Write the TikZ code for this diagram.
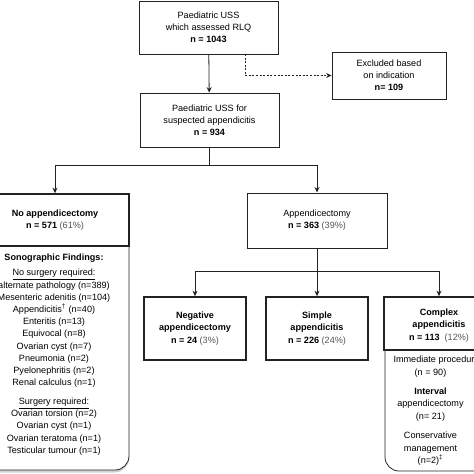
\documentclass[tikz,border=0pt]{standalone}
\usepackage{fontspec}
\setmainfont{Liberation Sans}
\usetikzlibrary{arrows.meta,shadows}
\definecolor{pct}{HTML}{555555}
\definecolor{ln}{HTML}{222222}
\begin{document}
\begin{tikzpicture}[x=1pt,y=-1pt,
  font=\fontsize{9.1}{12.2}\selectfont,
  box/.style={draw=ln, line width=0.8pt, align=center, inner sep=0pt, fill=white},
  thickbox/.style={box, line width=1.7pt},
  arr/.style={draw=ln, line width=0.8pt, -{Stealth[length=5.5pt,width=5pt]}},
  conn/.style={draw=ln, line width=0.8pt},
  dotarr/.style={draw=ln, line width=0.9pt, dash pattern=on 2pt off 1.6pt, -{Stealth[length=5.5pt,width=5pt]}},
  lowbox/.style={draw=ln, line width=0.8pt, fill=white},
  plain/.style={align=center, inner sep=0pt}
]
\useasboundingbox (0,0) rectangle (474,474);

% lower (findings) boxes
\path[lowbox, drop shadow={shadow xshift=0pt, shadow yshift=-2.5pt, fill=black!35}]
  (-30,246) -- (129,246) -- (129,456) .. controls (129,463.7) and (122.7,470) .. (115,470) -- (-30,470) -- cycle;
\path[lowbox]
  (500,350) -- (385,350) -- (385,457) .. controls (385,464.7) and (391.3,471) .. (399,471) -- (500,471) -- cycle;

% nodes
\node[box, minimum width=139pt, minimum height=53pt] (n1) at (208.5,27.5)
  {Paediatric USS\\which assessed RLQ\\\textbf{n = 1043}};
\node[box, minimum width=114pt, minimum height=47pt] (excl) at (389,75.5)
  {Excluded based\\on indication\\\textbf{n= 109}};
\node[box, minimum width=139pt, minimum height=54pt] (n2) at (209.5,120)
  {Paediatric USS for\\suspected appendicitis\\\textbf{n = 934}};
\node[thickbox, minimum width=148pt, minimum height=52pt] (noapp) at (55,220)
  {\textbf{No appendicectomy}\\\textbf{n = 571} {\color{pct}(61\%)}};
\node[box, minimum width=140pt, minimum height=55pt, line width=1pt] (app) at (317,220.5)
  {Appendicectomy\\\textbf{n = 363} {\color{pct}(39\%)}};
\node[thickbox, minimum width=102pt, minimum height=63pt] (neg) at (195,328.5)
  {\textbf{Negative}\\\textbf{appendicectomy}\\\textbf{n = 24} {\color{pct}(3\%)}};
\node[thickbox, minimum width=102pt, minimum height=63pt] (simple) at (317,328.5)
  {\textbf{Simple}\\\textbf{appendicitis}\\\textbf{n = 226} {\color{pct}(24\%)}};
\node[thickbox, minimum width=110pt, minimum height=53pt] (complex) at (439,323.5) {};
\node[plain] (complextext) at (439,325.5)
  {\textbf{Complex}\\\textbf{appendicitis}\\\textbf{n = 113}\ \ {\color{pct}(12\%)}};

% findings text
\node[plain, anchor=north] (sono) at (54,254)
  {\textbf{Sonographic Findings:}\\[2.8pt]
   \underline{No surgery required:}\\
   alternate pathology (n=389)\\
   Mesenteric adenitis (n=104)\\
   Appendicitis\textsuperscript{†} (n=40)\\
   Enteritis (n=13)\\
   Equivocal (n=8)\\
   Ovarian cyst (n=7)\\
   Pneumonia (n=2)\\
   Pyelonephritis (n=2)\\
   Renal calculus (n=1)\\[6.8pt]
   \underline{Surgery required:}\\
   Ovarian torsion (n=2)\\
   Ovarian cyst (n=1)\\
   Ovarian teratoma (n=1)\\
   Testicular tumour (n=1)};
\node[plain, anchor=north] (imm) at (436.5,356) {Immediate procedure};
\node[plain, anchor=north] (cplx) at (430.5,368.2)
  {(n = 90)\\[7.5pt]
   \textbf{Interval}\\appendicectomy\\(n= 21)\\[7.5pt]
   Conservative\\management\\(n=2)\textsuperscript{‡}};

% connectors
\coordinate (j1) at (209.5,165);
\coordinate (j2) at (317,271);
\coordinate (d0) at (245,54);
\draw[arr] (n1) -- (n2);
\draw[dotarr] (d0) |- (excl.west);
\draw[conn] (n2.south) -- (j1);
\draw[arr] (j1) -| (noapp.north);
\draw[arr] (j1) -| (app.north);
\draw[conn] (app.south) -- (j2);
\draw[arr] (j2) -| (neg.north);
\draw[arr] (j2) -- (simple.north);
\draw[arr] (j2) -| (complex.north);
\end{tikzpicture}
\end{document}
